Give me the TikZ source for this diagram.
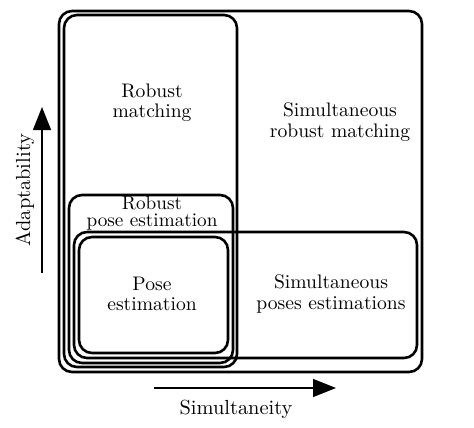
\documentclass[tikz,border=0pt]{standalone}
\usetikzlibrary{arrows.meta}
\begin{document}
\begin{tikzpicture}[x=0.5pt,y=-0.5pt,
  box/.style={line width=1.3pt,rounded corners=6.5pt},
  lbl/.style={align=center,font=\fontsize{9.8}{10.2}\selectfont,inner sep=0pt},
  axis/.style={line width=0.7pt,-{Triangle[length=11.5pt,width=9pt]}}]
\useasboundingbox (0,0) rectangle (474,427);
% boxes
\draw[box] (59,11) rectangle (422,372);
\draw[box] (64,15) rectangle (237,367);
\draw[box] (69,195) rectangle (233,363);
\draw[box] (74,232) rectangle (417,358);
\draw[box] (79,237) rectangle (228,353);
% labels
\node[lbl] (rm) at (152,103) {Robust\\matching};
\node[lbl] (srm) at (340,122) {Simultaneous\\robust matching};
\node[lbl,font=\fontsize{9.6}{8.8}\selectfont] (rpe) at (152,213) {Robust\\pose estimation};
\node[lbl] (pe) at (152,294) {Pose\\estimation};
\node[lbl] (spe) at (331,294) {Simultaneous\\poses estimations};
% axes
\coordinate (ya) at (42,273);
\coordinate (yb) at (42,107);
\coordinate (xa) at (154,388);
\coordinate (xb) at (336,388);
\draw[axis] (ya) -- (yb);
\draw[axis] (xa) -- (xb);
\node[lbl,font=\fontsize{10.2}{11}\selectfont,rotate=90] (ad) at (25,190) {Adaptability};
\node[lbl,font=\fontsize{10.2}{11}\selectfont] (si) at (236,409) {Simultaneity};
\end{tikzpicture}
\end{document}
